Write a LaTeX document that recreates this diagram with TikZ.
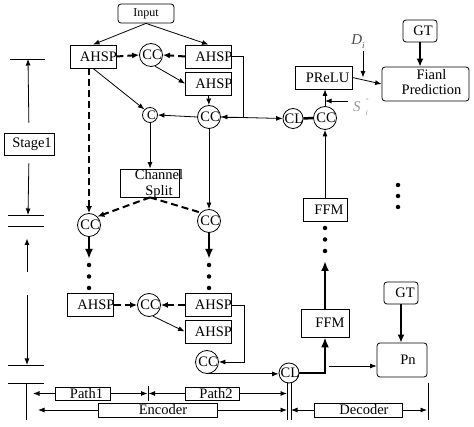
\documentclass[tikz,border=0pt]{standalone}
\usepackage{fontspec}
\setmainfont{Liberation Serif}
\usetikzlibrary{arrows.meta}
\begin{document}
\begin{tikzpicture}[x=1pt,y=-1pt,
  lw/.style={line width=0.8pt},
  f/.style={font=\fontsize{14.5}{16}\selectfont},
  box/.style={draw,lw,f,inner sep=0pt,minimum width=46pt,minimum height=23pt},
  rbox/.style={box,rounded corners=3pt},
  cc/.style={draw,lw,f,circle,inner sep=0pt,minimum size=23pt},
  ar/.style={lw,-{Latex[length=6.5pt,width=5pt]}},
  dar/.style={line width=2pt,dash pattern=on 7pt off 4pt,-{Latex[length=7pt,width=6pt]}},
  dln/.style={line width=2pt,dash pattern=on 7pt off 4pt},
  tar/.style={line width=2.6pt,-{Latex[length=10pt,width=8pt]}},
  gar/.style={line width=1.4pt,-{Latex[length=8pt,width=7pt]}},
  dot/.style={circle,fill,inner sep=0pt,minimum size=4.5pt},
]
\useasboundingbox (0,0) rectangle (474,427);

% ---------- encoder, top ----------
\node[rbox,minimum width=56pt,minimum height=19pt,font=\fontsize{12}{14}\selectfont] (in) at (146,13.5) {Input};
\node[box] (L1) at (93,56.5) {\makebox[0pt]{\hspace{11pt}AHSP}};
\node[box] (R1) at (208.5,56.5) {\makebox[0pt]{\hspace{11pt}AHSP}};
\node[box] (R2) at (208.5,83.5) {\makebox[0pt]{\hspace{11pt}AHSP}};
\node[cc] (c1) at (151,55) {\makebox[0pt]{\hspace{2pt}CC}};
\node[cc,minimum size=15pt,font=\fontsize{13}{14}\selectfont] (C) at (150,115) {\makebox[0pt]{\hspace{3pt}C}};
\node[cc] (c2) at (209,117) {\makebox[0pt]{\hspace{2pt}CC}};
\node[draw,lw,minimum width=59pt,minimum height=28pt,inner sep=0pt] (cs) at (150,183) {};
\node[f,align=center,inner sep=0pt] (cst) at (159,184.5) {Channel\\Split};
\node[cc] (c4) at (89,225) {\makebox[0pt]{\hspace{2pt}CC}};
\node[cc] (c5) at (209,221) {\makebox[0pt]{\hspace{2pt}CC}};
\coordinate (cd4) at (89,259);
\coordinate (cd5) at (209,259);
\node[dot] (d41) at (89,265) {};
\node[dot] (d42) at (89,276.5) {};
\node[dot] (d43) at (89,288) {};
\node[dot] (d51) at (209,265) {};
\node[dot] (d52) at (209,276.5) {};
\node[dot] (d53) at (209,288) {};

% ---------- encoder, bottom ----------
\node[box] (L2) at (90.5,305) {\makebox[0pt]{\hspace{11pt}AHSP}};
\node[cc] (c6) at (149,305) {\makebox[0pt]{\hspace{2pt}CC}};
\node[box] (R3) at (208,305) {\makebox[0pt]{\hspace{11pt}AHSP}};
\node[box] (R4) at (208,331.5) {\makebox[0pt]{\hspace{11pt}AHSP}};
\node[cc] (c7) at (207,362) {\makebox[0pt]{\hspace{2pt}CC}};

% ---------- decoder ----------
\node[cc,minimum size=20pt] (CL1) at (293,118.5) {\makebox[0pt]{\hspace{2pt}CL}};
\node[cc] (c3) at (325,118) {\makebox[0pt]{\hspace{2pt}CC}};
\node[box,minimum width=57pt] (pr) at (323.5,77.5) {\makebox[0pt]{\hspace{8pt}PReLU}};
\node[rbox,minimum width=87pt,minimum height=34pt] (fp) at (425.5,84) {\makebox[0pt]{\hspace{12pt}\begin{tabular}{@{}c@{}}Fianl\\[-1pt]Prediction\end{tabular}}};
\node[rbox,minimum width=34pt,minimum height=22pt] (gt1) at (420,31) {\makebox[0pt]{\hspace{6pt}GT}};
\node[box,minimum width=44pt] (ffm1) at (325,209.5) {\makebox[0pt]{\hspace{8pt}FFM}};
\node[box,minimum width=48pt,minimum height=28pt] (ffm2) at (325,323) {\makebox[0pt]{\hspace{10pt}FFM}};
\node[cc,minimum size=20pt] (CL2) at (289,373) {\makebox[0pt]{\hspace{2pt}CL}};
\node[rbox,minimum width=34pt,minimum height=22pt] (gt2) at (401,293) {\makebox[0pt]{\hspace{8pt}GT}};
\node[rbox,minimum width=50pt,minimum height=34pt] (pn) at (402,360) {\makebox[0pt]{\hspace{12pt}Pn}};
\node[dot] (dr1) at (398,185) {};
\node[dot] (dr2) at (398,196) {};
\node[dot] (dr3) at (398,207) {};
\node[dot] (df1) at (325,228) {};
\node[dot] (df2) at (325,239.5) {};
\node[dot] (df3) at (325,251) {};
\coordinate (fd) at (325,261);
\node[inner sep=0pt,text=black!70,font=\fontsize{15}{16}\selectfont] (di) at (358,42) {\textit{D}\raisebox{-4pt}{\fontsize{9}{10}\selectfont\textit{i}}};
\node[inner sep=0pt,text=black!40,font=\fontsize{15}{16}\selectfont,anchor=base west] (si) at (353,112) {\textit{S}\hspace{5pt}\makebox[0pt][l]{\raisebox{8pt}{\fontsize{7}{8}\selectfont''}}\raisebox{-4pt}{\fontsize{8}{9}\selectfont\textit{i}}};
\coordinate (dtop) at (363,51);
\coordinate (sr) at (348,101);
\coordinate (pnin) at (329,366);

% ---------- connectors ----------
\draw[ar] (in.south) -- (L1.north);
\draw[ar] (in.south) -- (R1.north);
\draw[dar] (L1.east) -- (c1.west);
\draw[dar] (R1.west) -- (c1.east);
\draw[ar] (c1.290) -- (R2.west);
\draw[ar] (L1.south) -- (C.north west);
\draw[ar] (R2.south) -- (c2.north);
\draw[ar] (R1.east) -- ++(11.5,0) |- (c2.east);
\draw[ar] (c2.west) -- (C.east);
\draw[ar] (c2.east) -- (CL1.west);
\draw[line width=2.5pt] (CL1.east) -- (c3.west);
\draw[ar] (C.south) -- (cs.north);
\draw[ar] (c2.south) -- (c5.north);
\draw[dar] (c4.north |- L1.south) -- (c4.north);
\draw[dar] (cs.south) -- (c4.north east);
\draw[dln] (cs.south) -- (c5.north west);
\draw[tar] (c4.south) -- (cd4);
\draw[tar] (c5.south) -- (cd5);
\draw[dar] (L2.east) -- (c6.west);
\draw[dar] (R3.west) -- (c6.east);
\draw[ar] (c6.290) -- (R4.west);
\draw[ar] (R3.east) -- ++(13,0) |- (c7.east);
\draw[ar] (c7.south) -- (c7.south -| CL2.west);
\draw[tar] (CL2.east) -| (ffm2.south);
\draw[tar] (ffm2.north) -- (fd);
\draw[ar] (ffm1.north) -- (c3.south);
\draw[ar] (c3.north) -- (c3.north |- pr.south);
\draw[ar] (sr) -- (sr -| c3.north);
\draw[ar] (pr.east) -- (fp.west);
\draw[ar] (dtop) -- (dtop |- pr.east);
\draw[gar] (gt1.south) -- (gt1.south |- fp.north);
\draw[gar] (gt2.south) -- (gt2.south |- pn.north);
\draw[ar] (pnin) -- (pnin -| pn.west);

% ---------- bottom scale ----------
\draw[lw] ([xshift=-2pt]CL2.south) -- ++(0,37);
\draw[lw] ([xshift=2pt]CL2.south) -- ++(0,37);
\node[box,minimum width=55pt,minimum height=13pt] (p1) at (82.5,393.5) {\makebox[0pt]{\hspace{8pt}Path1}};
\node[box,minimum width=54pt,minimum height=13pt] (p2) at (212,393.5) {\makebox[0pt]{\hspace{8pt}Path2}};
\node[box,minimum width=119pt,minimum height=14pt] (enc) at (157.5,410) {\makebox[0pt]{\hspace{11pt}Encoder}};
\node[box,minimum width=88pt,minimum height=14pt] (dec) at (358,410) {\makebox[0pt]{\hspace{12pt}Decoder}};
\coordinate (p1l) at (33,393.5);
\coordinate (tk) at (148,393.5);
\coordinate (encl) at (38,410);
\coordinate (decr) at (427,410);
\draw[ar] (p1.west) -- (p1l);
\draw[ar] (p1.east) -- ([xshift=-0.5pt]tk);
\draw[ar] (p2.west) -- ([xshift=0.5pt]tk);
\draw[lw] (148,386) -- (148,401);
\draw[ar] (p2.east) -- ([xshift=-2pt]CL2.south |- p2.east);
\draw[ar] (enc.west) -- (encl);
\draw[ar] (enc.east) -- ([xshift=-2pt]CL2.south |- enc.east);
\draw[ar] (dec.west) -- ([xshift=2pt]CL2.south |- dec.west);
\draw[ar] (dec.east) -- (decr);
\draw[lw] (428,383) -- (428,420);

% ---------- left stage scale ----------
\coordinate (s1top) at (28,59);
\coordinate (s1bot) at (28,215);
\coordinate (s2top) at (27,238.5);
\coordinate (s2a) at (27,272);
\coordinate (s2b) at (27,295);
\coordinate (s2bot) at (27,365);
\node[box,minimum width=50pt,minimum height=22pt] (st) at (29,144) {\makebox[0pt]{\hspace{6pt}Stage1}};
\draw[lw] (10,59) -- (45,59);
\draw[ar,shorten <=10pt] (st.north) -- (s1top);
\draw[ar,shorten <=8pt] (st.south) -- (s1bot);
\draw[lw] (8,215) -- (44,215);
\draw[lw] (8,226) -- (44,226);
\draw[ar] (s2a) -- (s2top);
\draw[ar] (s2b) -- (s2bot);
\draw[lw] (8,365) -- (44,365);
\draw[lw] (8,383) -- (44,383);
\draw[lw] (26,383) -- (26,420);
\end{tikzpicture}
\end{document}
